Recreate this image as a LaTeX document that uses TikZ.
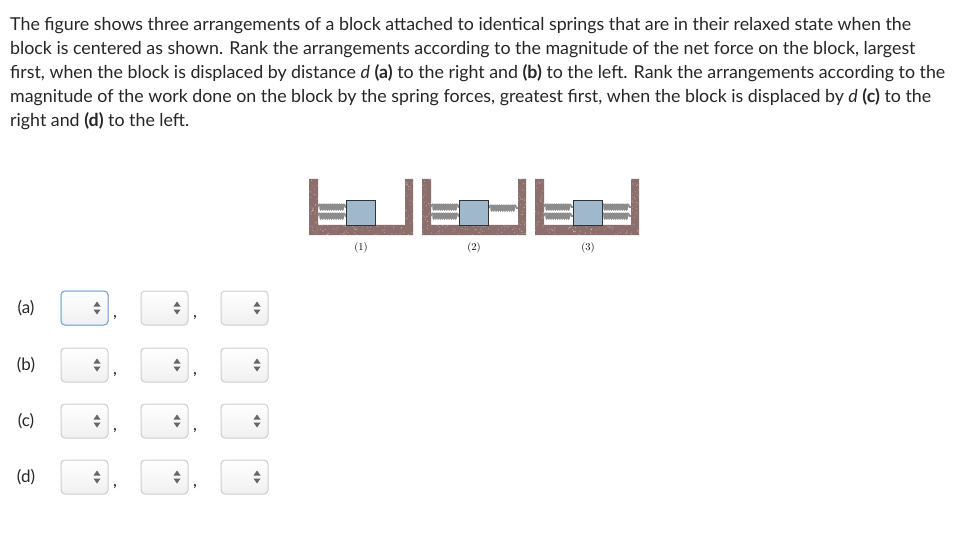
\documentclass[tikz,border=0pt]{standalone}
\usepackage{fontspec}
\setmainfont{Lato}
\newfontfamily\lmr{Latin Modern Roman}
\usetikzlibrary{decorations.pathmorphing}
\definecolor{ground}{RGB}{140,110,108}
\definecolor{blockc}{RGB}{160,184,204}
\definecolor{bfr}{RGB}{205,205,205}
\definecolor{bsel}{RGB}{110,160,225}
\tikzset{
 x=1pt,y=-1pt,
 txt/.style={anchor=base west,inner sep=0,font=\fontsize{17.8}{21}\selectfont,text=black!85},
 lbl/.style={inner sep=0,font=\fontsize{10.5}{12}\selectfont\lmr},
 spr/.style={draw=black!45,line width=1.6pt,decorate,decoration={coil,aspect=0.4,amplitude=2.6pt,segment length=2.2pt}},
 blk/.style={draw=black!80,fill=blockc,line width=0.6pt,minimum width=29pt,minimum height=25pt,inner sep=0,anchor=north west},
 sel/.style={draw=bfr,line width=1pt,rounded corners=4pt,top color=white,bottom color=black!6,minimum width=47pt,minimum height=34pt,inner sep=0},
 rowl/.style={inner sep=0,font=\fontsize{17}{20}\selectfont,text=black!85},
 arr/.style={fill=black!60},
}
\newcommand{\panel}[1]{%
 \fill[ground] (#1,179) -- (#1+9,179) -- (#1+9,225) -- (#1+96,225) -- (#1+96,179) -- (#1+104,179) -- (#1+104,235) -- (#1,235) -- cycle;
 \foreach \k in {1,...,60}{\fill[white,opacity=0.35] (#1+104*rnd,225+10*rnd) circle (0.6);}
 \foreach \k in {1,...,25}{\fill[white,opacity=0.35] (#1+9*rnd,179+46*rnd) circle (0.6);
  \fill[white,opacity=0.35] (#1+96+8*rnd,179+46*rnd) circle (0.6);}
}
\newcommand{\updown}[2]{%
 \fill[arr] (#1-3.5,#2-1.5) -- (#1+3.5,#2-1.5) -- (#1,#2-6.5) -- cycle;
 \fill[arr] (#1-3.5,#2+1.5) -- (#1+3.5,#2+1.5) -- (#1,#2+6.5) -- cycle;
}
\begin{document}
\begin{tikzpicture}
\useasboundingbox[fill=white] (0,0) rectangle (957,537);
\pgfmathsetseed{7}
\node[txt] (l1) at (10,31) {The figure shows three arrangements of a block attached to identical springs that are in their relaxed state when the};
\node[txt] (l2) at (10,55) {block is centered as shown. Rank the arrangements according to the magnitude of the net force on the block, largest};
\node[txt] (l3) at (10,79) {first, when the block is displaced by distance \textit{d} \textbf{(a)} to the right and \textbf{(b)} to the left. Rank the arrangements according to the};
\node[txt] (l4) at (10,103) {magnitude of the work done on the block by the spring forces, greatest first, when the block is displaced by \textit{d} \textbf{(c)} to the};
\node[txt] (l5) at (10,127) {right and \textbf{(d)} to the left.};
\panel{309}
\panel{422}
\panel{535}
\draw[spr] (318,207) -- (346,207);
\draw[spr] (318,216) -- (346,216);
\draw[spr] (431,207) -- (459,207);
\draw[spr] (431,216) -- (459,216);
\draw[spr] (489,208) -- (518,208);
\draw[spr] (544,207) -- (573,207);
\draw[spr] (544,216) -- (573,216);
\draw[spr] (602,207) -- (631,207);
\draw[spr] (602,216) -- (631,216);
\node[blk] (b1) at (346,200) {};
\node[blk] (b2) at (459,200) {};
\node[blk] (b3) at (573,200) {};
\node[lbl] (p1) at (361,248) {(1)};
\node[lbl] (p2) at (474,248) {(2)};
\node[lbl] (p3) at (588,248) {(3)};
\foreach \r/\yy in {a/308,b/365,c/421,d/477}{
 \node[rowl] (r\r) at (26,\yy) {(\r)};
 \node[sel] (s\r1) at (84.5,\yy) {};
 \node[sel] (s\r2) at (164.5,\yy) {};
 \node[sel] (s\r3) at (244.5,\yy) {};
 \updown{97}{\yy}
 \updown{177}{\yy}
 \updown{257}{\yy}
 \node[rowl,anchor=base] (c\r1) at (115,\yy+9) {,};
 \node[rowl,anchor=base] (c\r2) at (195,\yy+9) {,};
}
\node[sel,draw=bsel] (sa1b) at (84.5,308) {};
\updown{97}{308}
\end{tikzpicture}
\end{document}
